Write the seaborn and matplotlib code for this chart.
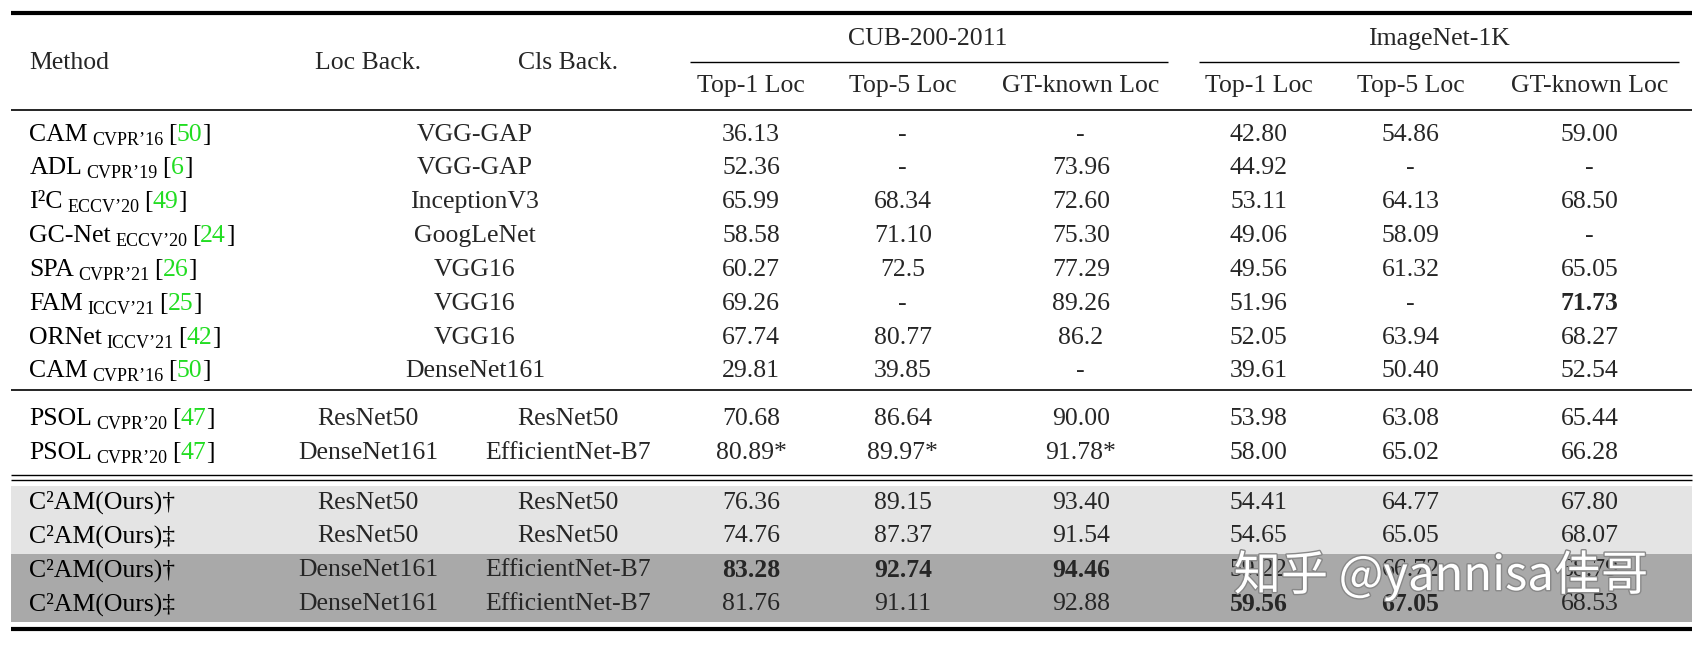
import matplotlib
matplotlib.use("Agg")
import matplotlib.pyplot as plt
import seaborn as sns
import matplotlib.patheffects as pe

sns.set_theme(style="white")
plt.rcParams['font.family'] = ['Liberation Serif', 'DejaVu Serif']

methods = ["CAM", "ADL", "I²C", "GC-Net", "SPA", "FAM", "ORNet", "CAM",
           "PSOL", "PSOL", "C²AM(Ours)†", "C²AM(Ours)‡", "C²AM(Ours)†", "C²AM(Ours)‡"]
venues = ["CVPR’16", "CVPR’19", "ECCV’20", "ECCV’20", "CVPR’21", "ICCV’21", "ICCV’21", "CVPR’16",
          "CVPR’20", "CVPR’20", "", "", "", ""]
refs = ["50", "6", "49", "24", "26", "25", "42", "50", "47", "47", "", "", "", ""]
loc_back = ["VGG-GAP", "VGG-GAP", "InceptionV3", "GoogLeNet", "VGG16", "VGG16", "VGG16", "DenseNet161",
            "ResNet50", "DenseNet161", "ResNet50", "ResNet50", "DenseNet161", "DenseNet161"]
cls_back = [None] * 8 + ["ResNet50", "EfficientNet-B7", "ResNet50", "ResNet50", "EfficientNet-B7", "EfficientNet-B7"]
cub_top1 = ["36.13", "52.36", "65.99", "58.58", "60.27", "69.26", "67.74", "29.81", "70.68", "80.89*", "76.36", "74.76", "83.28", "81.76"]
cub_top5 = ["-", "-", "68.34", "71.10", "72.5", "-", "80.77", "39.85", "86.64", "89.97*", "89.15", "87.37", "92.74", "91.11"]
cub_gt = ["-", "73.96", "72.60", "75.30", "77.29", "89.26", "86.2", "-", "90.00", "91.78*", "93.40", "91.54", "94.46", "92.88"]
in_top1 = ["42.80", "44.92", "53.11", "49.06", "49.56", "51.96", "52.05", "39.61", "53.98", "58.00", "54.41", "54.65", "59.22", "59.56"]
in_top5 = ["54.86", "-", "64.13", "58.09", "61.32", "-", "63.94", "50.40", "63.08", "65.02", "64.77", "65.05", "66.72", "67.05"]
in_gt = ["59.00", "-", "68.50", "-", "65.05", "71.73", "68.27", "52.54", "65.44", "66.28", "67.80", "68.07", "68.79", "68.53"]
bold = {("cub_top1", 12), ("cub_top5", 12), ("cub_gt", 12), ("in_top1", 13), ("in_top5", 13), ("in_gt", 5)}

W, H = 1560, 595
fig = plt.figure(figsize=(17.03, 6.5), dpi=100)
ax = fig.add_axes([0, 0, 1, 1])
ax.set_xlim(0, W); ax.set_ylim(H, 0); ax.axis("off")

FS = 18.5
row_y = [124, 154, 185, 216, 247, 278, 309, 340, 384, 415, 460, 491, 522, 553]

ax.add_patch(plt.Rectangle((10, 445), 1540, 62, color="#e4e4e4", lw=0, zorder=0))
ax.add_patch(plt.Rectangle((10, 507), 1540, 62, color="#a9a9a9", lw=0, zorder=0))

def hline(y, x0=10, x1=1550, lw=1.0):
    ax.plot([x0, x1], [y, y], color="black", lw=lw, solid_capstyle="butt")

hline(12, lw=3); hline(101, lw=1.2); hline(357, lw=1.2)
hline(435, lw=1.0); hline(439, lw=1.0); hline(576, lw=3)
hline(57, 632, 1070, 1.0); hline(57, 1098, 1538, 1.0)

ax.text(27, 58, "Method", fontsize=FS, va="center", ha="left")
ax.text(337, 58, "Loc Back.", fontsize=FS, va="center", ha="center")
ax.text(520, 58, "Cls Back.", fontsize=FS, va="center", ha="center")
ax.text(850, 36, "CUB-200-2011", fontsize=FS, va="center", ha="center")
ax.text(1318, 36, "ImageNet-1K", fontsize=FS, va="center", ha="center")
col_x = [688, 827, 990, 1153, 1292, 1456]
for x, s in zip(col_x, ["Top-1 Loc", "Top-5 Loc", "GT-known Loc"] * 2):
    ax.text(x, 79, s, fontsize=FS, va="center", ha="center")

fig.canvas.draw()
r = fig.canvas.get_renderer()
inv = ax.transData.inverted()

def seg(x, y, s, fs=FS, color="black", dy=0):
    t = ax.text(x, y + dy, s, fontsize=fs, va="center", ha="left", color=color)
    bb = t.get_window_extent(renderer=r)
    x0 = inv.transform((bb.x0, 0))[0]; x1 = inv.transform((bb.x1, 0))[0]
    return x + (x1 - x0)

green = "#22dd22"
for i, y in enumerate(row_y):
    x = seg(27, y, methods[i])
    if venues[i]:
        x = seg(x + 4, y, venues[i], fs=13, dy=5)
        x = seg(x + 4, y, "[")
        x = seg(x, y, refs[i], color=green)
        seg(x, y, "]")
    if cls_back[i] is None:
        ax.text(435, y, loc_back[i], fontsize=FS, va="center", ha="center")
    else:
        ax.text(337, y, loc_back[i], fontsize=FS, va="center", ha="center")
        ax.text(520, y, cls_back[i], fontsize=FS, va="center", ha="center")
    for name, arr, x in zip(["cub_top1", "cub_top5", "cub_gt", "in_top1", "in_top5", "in_gt"],
                            [cub_top1, cub_top5, cub_gt, in_top1, in_top5, in_gt], col_x):
        ax.text(x, y, arr[i], fontsize=FS, va="center", ha="center",
                fontweight="bold" if (name, i) in bold else "normal")

ax.text(1320, 527, "知乎 @yannisa佳哥", fontsize=34, va="center", ha="center", color="white",
        family=["Noto Sans CJK SC", "DejaVu Sans"],
        path_effects=[pe.withStroke(linewidth=2, foreground="#888888")])

fig.savefig("out.png", dpi=100)
